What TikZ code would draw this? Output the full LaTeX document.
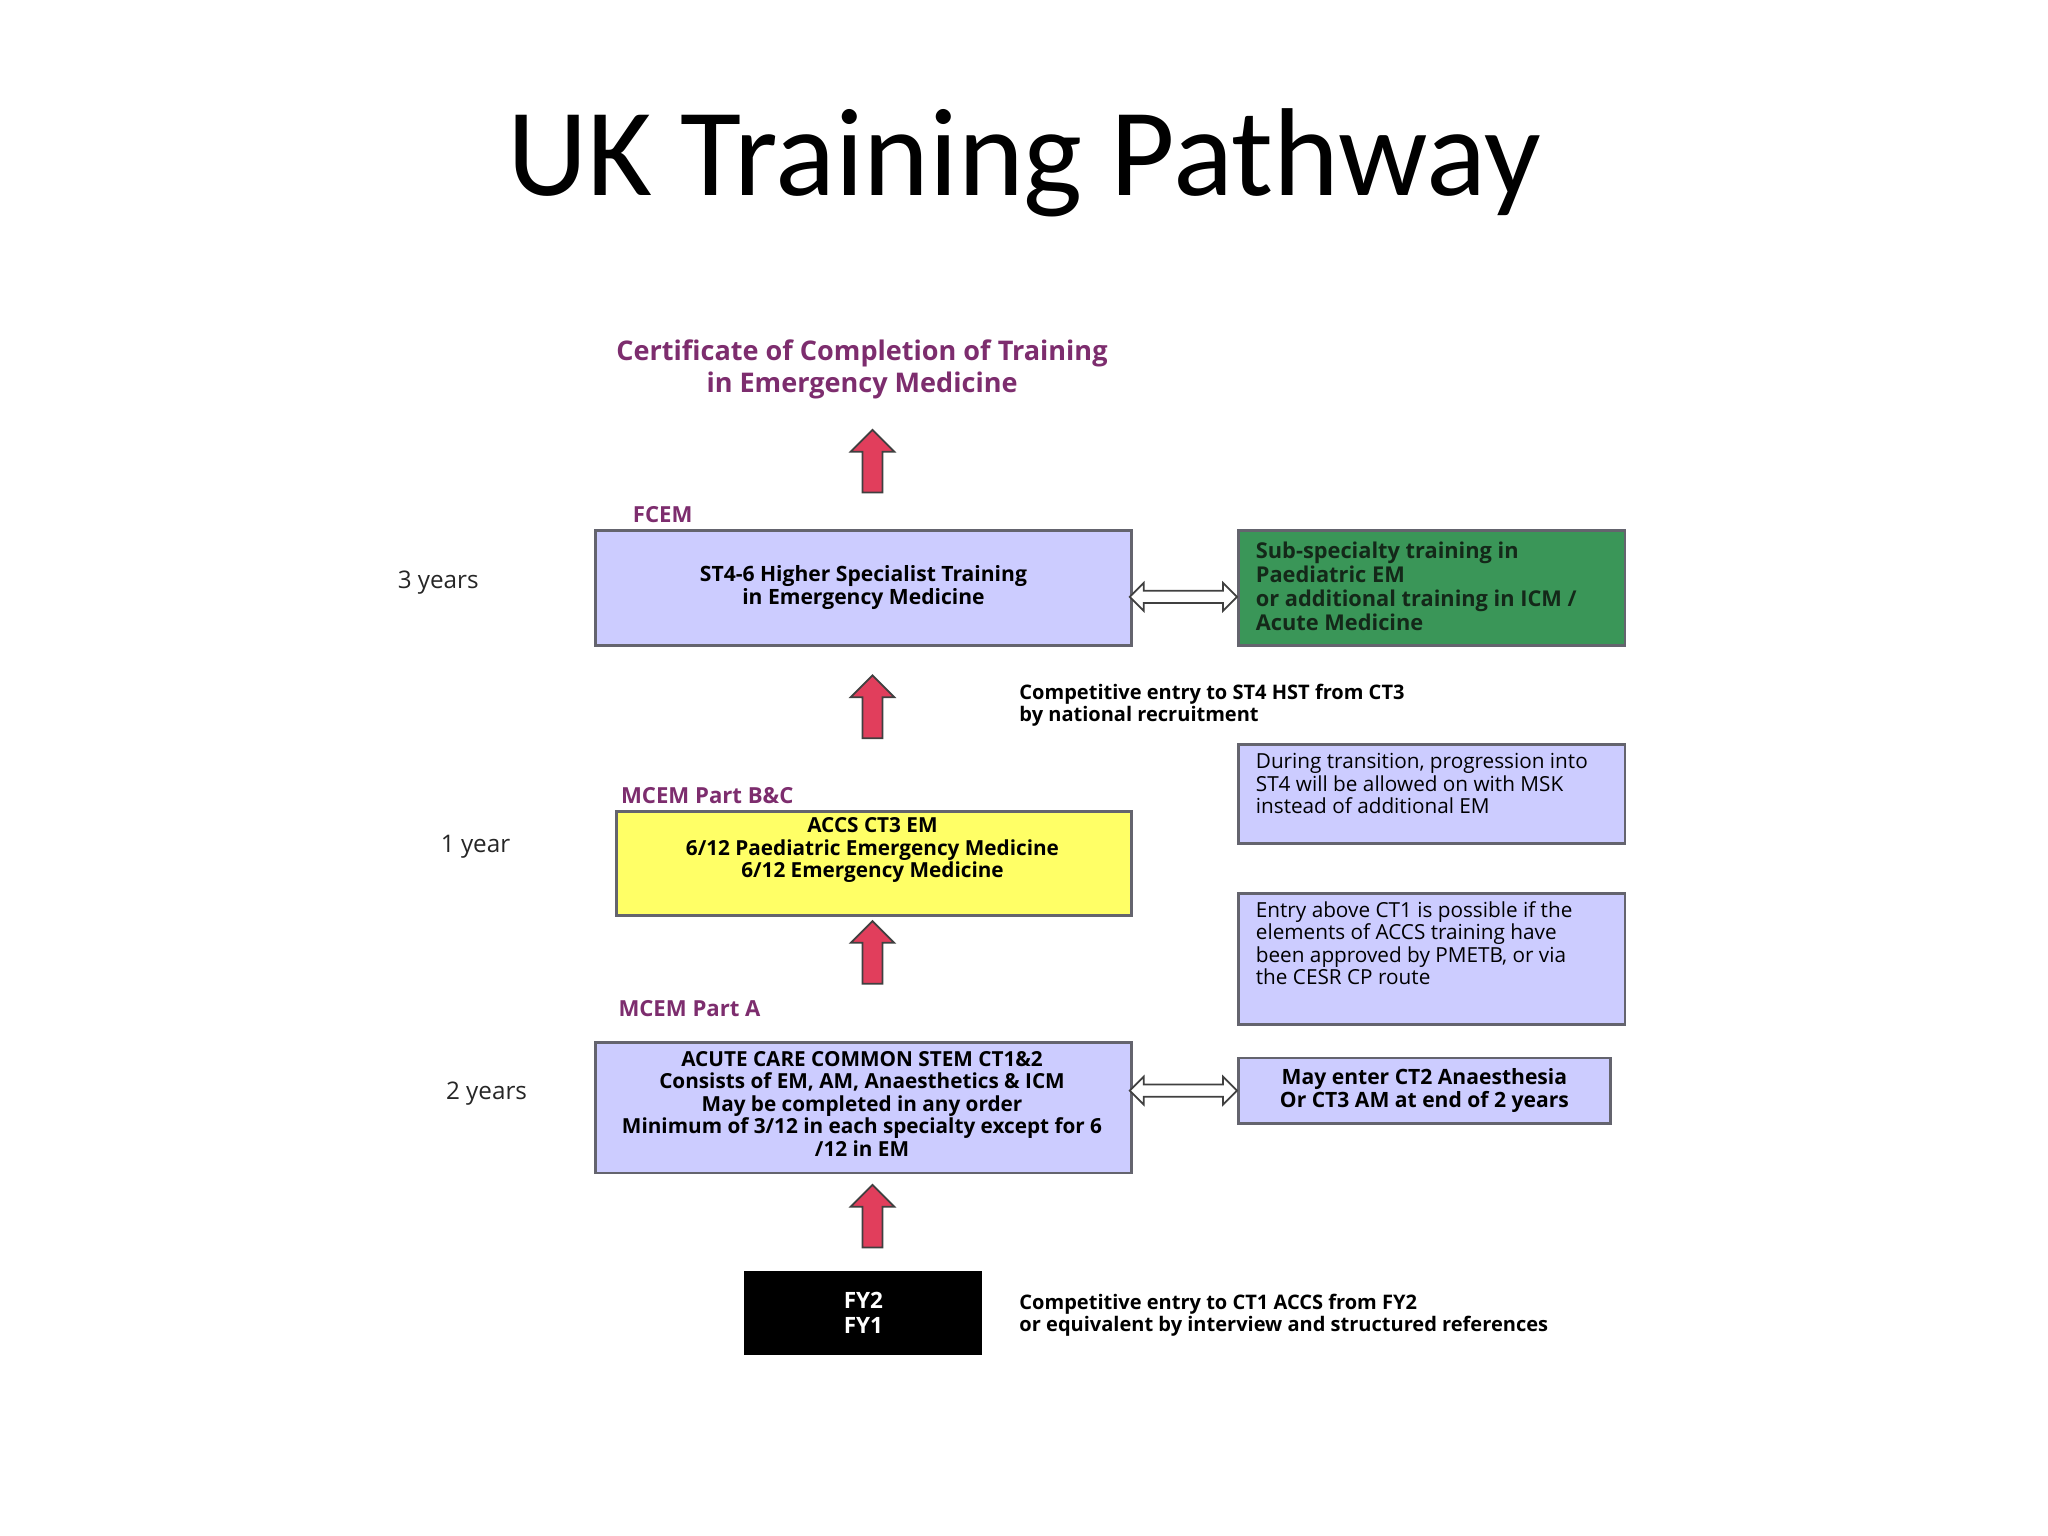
\documentclass[tikz,border=0pt]{standalone}
\usepackage{fontspec}
\setmainfont{Open Sans}
\newfontfamily\titlefont{Carlito}
\usetikzlibrary{shapes.arrows}
\def\u{0.013061cm}
\definecolor{purp}{RGB}{125,45,110}
\definecolor{lav}{RGB}{204,204,255}
\definecolor{grn}{RGB}{58,150,88}
\definecolor{yel}{RGB}{255,255,102}
\definecolor{bord}{RGB}{100,100,110}
\definecolor{redarr}{RGB}{225,62,92}
\definecolor{darkgrn}{RGB}{20,40,25}
\tikzset{
 box/.style={draw=bord,line width=0.8pt,anchor=north west,inner sep=0pt,align=center,font=\fontsize{6}{6.6}\selectfont\bfseries},
 upar/.style={single arrow,shape border rotate=90,fill=redarr,draw=black!75,line width=0.5pt,inner sep=7*\u,single arrow head extend=9*\u,minimum height=48*\u},
 dblar/.style={double arrow,fill=white,draw=black!75,line width=0.5pt,inner sep=4*\u,double arrow head extend=6*\u,minimum height=82*\u},
 lbl/.style={anchor=west,inner sep=0pt,text=purp,font=\fontsize{6.3}{7}\selectfont\bfseries},
 yrs/.style={anchor=west,inner sep=0pt,font=\fontsize{6.9}{8}\selectfont,text=black!85},
 note/.style={anchor=west,inner sep=0pt,align=left,font=\fontsize{5.7}{6.4}\selectfont\bfseries},
}
\begin{document}
\begin{tikzpicture}[x=0.013061cm,y=-0.013061cm]
\fill[white] (0,0) rectangle (1568,1176);
\useasboundingbox (0,0) rectangle (1568,1176);
\node (title) at (784,125) {\titlefont\fontsize{35.6}{40}\selectfont UK Training Pathway};
\node[text=purp,align=center,font=\fontsize{7.7}{9.2}\selectfont\bfseries] (cct) at (660,283) {Certificate of Completion of Training\\in Emergency Medicine};
% boxes
\node[box,fill=lav,minimum width=410*\u,minimum height=88*\u] (st4) at (455,405) {ST4-6 Higher Specialist Training\\in Emergency Medicine};
\node[box,fill=grn,text=darkgrn,minimum width=296*\u,minimum height=88*\u] (sub) at (947,405) {};
\node[note,font=\fontsize{6.2}{6.8}\selectfont\bfseries,text=darkgrn] (subt) at (961,449) {Sub-specialty training in\\Paediatric EM\\or additional training in ICM /\\Acute Medicine};
\node[box,fill=lav,minimum width=296*\u,minimum height=76*\u] (trans) at (947,569) {};
\node[note,font=\fontsize{5.9}{6.4}\selectfont] (transt) at (961,600) {During transition, progression into\\ST4 will be allowed on with MSK\\instead of additional EM};
\node[box,fill=yel,minimum width=394*\u,minimum height=80*\u] (ct3) at (471,620) {};
\node[align=center,font=\fontsize{5.9}{6.4}\selectfont\bfseries] (ct3t) at (668,651) {ACCS CT3 EM\\6/12 Paediatric Emergency Medicine\\6/12 Emergency Medicine};
\node[box,fill=lav,minimum width=296*\u,minimum height=100*\u] (entry) at (947,683) {};
\node[note,font=\fontsize{5.9}{6.4}\selectfont] (entryt) at (961,722) {Entry above CT1 is possible if the\\elements of ACCS training have\\been approved by PMETB, or via\\the CESR CP route};
\node[box,fill=lav,minimum width=410*\u,minimum height=100*\u] (accs) at (455,797) {};
\node[align=center,font=\fontsize{5.9}{6.4}\selectfont\bfseries] (accst) at (660,845) {ACUTE CARE COMMON STEM CT1\&2\\Consists of EM, AM, Anaesthetics \& ICM\\May be completed in any order\\Minimum of 3/12 in each specialty except for 6\\/12 in EM};
\node[box,fill=lav,minimum width=285*\u,minimum height=50*\u] (may) at (947,809) {May enter CT2 Anaesthesia\\Or CT3 AM at end of 2 years};
\node[box,fill=black,text=white,draw=black,minimum width=180*\u,minimum height=62*\u,font=\fontsize{6.4}{7.3}\selectfont\bfseries] (fy) at (570,973) {FY2\\FY1};
% labels
\node[lbl] (fcem) at (484,394) {FCEM};
\node[lbl] (mbc) at (475,609) {MCEM Part B\&C};
\node[lbl] (ma) at (473,772) {MCEM Part A};
\node[yrs] (y3) at (304,446) {3 years};
\node[yrs] (y1) at (337,648) {1 year};
\node[yrs] (y2) at (341,837) {2 years};
\node[note] (c3) at (780,540) {Competitive entry to ST4 HST from CT3\\by national recruitment};
\node[note] (c1) at (780,1007) {Competitive entry to CT1 ACCS from FY2\\or equivalent by interview and structured references};
% arrows
\node[upar] (a1) at (668,357) {};
\node[upar] (a2) at (668,545) {};
\node[upar] (a3) at (668,733) {};
\node[upar] (a4) at (668,935) {};
\node[dblar] (d1) at (906,457) {};
\node[dblar] (d2) at (906,835) {};
\end{tikzpicture}
\end{document}
